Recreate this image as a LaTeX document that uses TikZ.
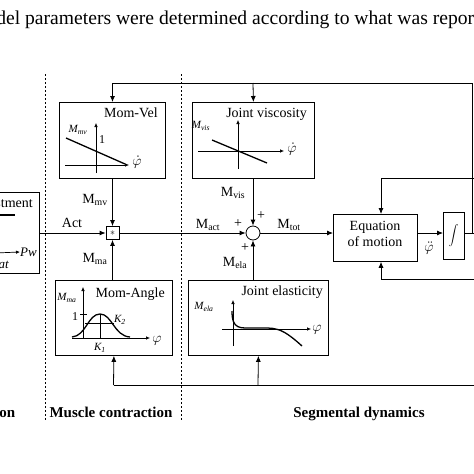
\documentclass[tikz,border=0pt]{standalone}
\usepackage{fontspec}
\setmainfont{Liberation Serif}
\usetikzlibrary{arrows.meta}
\begin{document}
\begin{tikzpicture}[x=1pt,y=-1pt,
  box/.style={draw, line width=0.8pt, inner sep=0pt},
  conn/.style={line width=0.8pt},
  arr/.style={conn, -{Latex[length=6pt,width=5pt]}},
  axis/.style={line width=0.6pt, -{Latex[length=4pt,width=3.5pt]}},
  curve/.style={line width=1.3pt},
  lbl/.style={inner sep=0pt, font=\fontsize{14}{16}\selectfont},
  glbl/.style={inner sep=0pt, font=\fontsize{11}{13}\selectfont\itshape},
  mth/.style={inner sep=0pt, font=\fontsize{15}{17}\selectfont},
  sec/.style={inner sep=0pt, font=\fontsize{15}{17}\selectfont\bfseries},
  divider/.style={line width=0.9pt, dash pattern=on 2.2pt off 1.8pt}]
\useasboundingbox (0,0) rectangle (474,474);
\clip (0,0) rectangle (474,474);
\fill[white] (0,0) rectangle (474,474);

% top running text
\node[inner sep=0pt, anchor=base west, font=\fontsize{19.6}{22}\selectfont] (toptext) at (25,24) {\llap{model }parameters were determined according to what was reported};

% dividers
\coordinate (d1t) at (45,74); \coordinate (d1b) at (45,421);
\coordinate (d2t) at (181,74); \coordinate (d2b) at (181,421);
\draw[divider] (d1t) -- (d1b);
\draw[divider] (d2t) -- (d2b);

% boxes
\node[box, anchor=north west, minimum width=106pt, minimum height=76pt] (mv) at (59,102) {};
\node[box, anchor=north west, minimum width=122pt, minimum height=76pt] (vis) at (192,102) {};
\node[box, anchor=north west, minimum width=117pt, minimum height=75pt] (ma) at (55,280) {};
\node[box, anchor=north west, minimum width=140pt, minimum height=75pt] (el) at (188,280) {};
\node[box, anchor=north west, minimum width=84pt, minimum height=47pt] (eq) at (333,214) {};
\node[box, anchor=north west, minimum width=21pt, minimum height=47pt] (int) at (443,212) {};
\node[box, anchor=north west, minimum width=60pt, minimum height=81pt] (act) at (-21,192) {};
\node[box, minimum width=13pt, minimum height=13pt] (star) at (112.5,233) {};
\node[draw, circle, line width=0.8pt, minimum size=14pt, inner sep=0pt] (sum) at (253,233) {};

% box texts
\node[lbl, anchor=base east] (mvt) at (158,117) {Mom-Vel};
\node[lbl, anchor=base east] (vist) at (307,117) {Joint viscosity};
\node[lbl, anchor=base east] (mat) at (165,297) {Mom-Angle};
\node[lbl, anchor=base east] (elt) at (323,295) {Joint elasticity};
\node[lbl, align=center] (eqt) at (375,234) {Equation\\of motion};
\node[mth] (intt) at (453.5,236) {$\displaystyle\int$};
\node[inner sep=0pt] (start) at (112.5,233.5) {$*$};
\node[lbl, anchor=base east] (actt) at (33,207) {adjustment};

% left box interior
\coordinate (al1) at (-5,215); \coordinate (al2) at (15,215);
\draw[line width=1.2pt] (al1) -- (al2);
\coordinate (pw0) at (-5,253);
\node[inner sep=0pt, anchor=west, font=\fontsize{13}{15}\selectfont\itshape] (pw) at (20,252) {Pw};
\draw[line width=0.7pt, -{Latex[length=4pt,width=3.5pt]}] (pw0) -- (pw.west);
\node[inner sep=0pt, anchor=base east, font=\fontsize{13}{15}\selectfont\itshape] (at) at (9,268) {at};

% Mom-Vel graph
\coordinate (mvv0) at (96,173); \coordinate (mvv1) at (96,123);
\coordinate (mvh0) at (65,165); \coordinate (mvh1) at (129,165);
\draw[axis] (mvv0) -- (mvv1);
\draw[axis] (mvh0) -- (mvh1);
\coordinate (mvl0) at (66,138); \coordinate (mvl1) at (125,164);
\draw[curve] (mvl0) -- (mvl1);
\node[glbl] (mvM) at (78,130) {M\textsubscript{mv}};
\node[inner sep=0pt, font=\fontsize{12}{14}\selectfont] (mv1) at (102,140) {1};
\node[mth] (mvphi) at (137,162) {$\dot{\varphi}$};

% Joint viscosity graph
\coordinate (vsv0) at (238,169); \coordinate (vsv1) at (238,120);
\coordinate (vsh0) at (198,151); \coordinate (vsh1) at (284,151);
\draw[axis] (vsv0) -- (vsv1);
\draw[axis] (vsh0) -- (vsh1);
\coordinate (vsl0) at (212,140); \coordinate (vsl1) at (267,163);
\draw[curve] (vsl0) -- (vsl1);
\node[glbl] (vsM) at (201,126) {M\textsubscript{vis}};
\node[mth] (vsphi) at (292,149) {$\dot{\varphi}$};

% Mom-Angle graph
\coordinate (mav0) at (83,338); \coordinate (mav1) at (83,287);
\coordinate (mah0) at (72,338); \coordinate (mah1) at (150,338);
\draw[axis] (mav0) -- (mav1);
\draw[axis] (mah0) -- (mah1);
\coordinate (mab0) at (72,337); \coordinate (mabp) at (100,314); \coordinate (mab1) at (130,337);
\draw[curve] (mab0) .. controls (86,336) and (88,314) .. (mabp) .. controls (112,314) and (114,336) .. (mab1);
\coordinate (mak1a) at (100,314); \coordinate (mak1b) at (100,338);
\draw[line width=0.5pt] (mak1a) -- (mak1b);
\coordinate (mak2a) at (85,323); \coordinate (mak2b) at (114,323);
\draw[line width=0.5pt] (mak2a) -- (mak2b);
\coordinate (mat0) at (80,314); \coordinate (mat1) at (87,314);
\draw[line width=0.5pt] (mat0) -- (mat1);
\node[glbl] (maM) at (67,298) {M\textsubscript{ma}};
\node[inner sep=0pt, font=\fontsize{12}{14}\selectfont] (ma1) at (75,317) {1};
\node[glbl] (maK2) at (120,320) {K\textsubscript{2}};
\node[glbl] (maK1) at (100,348) {K\textsubscript{1}};
\node[mth] (maphi) at (157,341) {$\varphi$};

% Joint elasticity graph
\coordinate (elv0) at (233,346); \coordinate (elv1) at (233,300);
\coordinate (elh0) at (222,329); \coordinate (elh1) at (311,329);
\draw[axis] (elv0) -- (elv1);
\draw[axis] (elh0) -- (elh1);
\coordinate (elc0) at (232,311); \coordinate (elc1) at (302,346);
\draw[curve] (elc0) .. controls (232,330) and (240,328) .. (255,328) .. controls (275,328) and (280,326) .. (elc1);
\node[glbl] (elM) at (204,307) {M\textsubscript{ela}};
\node[mth] (elphi) at (317,330) {$\varphi$};

% connectors
\draw[arr] (act.east |- star) -- (star.west);
\node[lbl] (actl) at (72,223) {Act};
\draw[arr] (mv.south -| star) -- (star.north);
\node[lbl] (mvl) at (95,200) {M\textsubscript{mv}};
\draw[arr] (ma.north -| star) -- (star.south);
\node[lbl] (mal) at (95,259) {M\textsubscript{ma}};
\draw[arr] (star.east) -- (sum.west);
\node[lbl] (sumactl) at (208,225) {M\textsubscript{act}};
\node[lbl] (p1) at (238,224) {+};
\draw[arr] (vis.south -| sum) -- (sum.north);
\node[lbl] (visl) at (233,193) {M\textsubscript{vis}};
\node[lbl] (p2) at (261,216) {+};
\draw[arr] (el.north -| sum) -- (sum.south);
\node[lbl] (elal) at (235,263) {M\textsubscript{ela}};
\node[lbl] (p3) at (245,248) {+};
\draw[arr] (sum.east) -- (sum -| eq.west);
\node[lbl] (totl) at (289,225) {M\textsubscript{tot}};
\draw[arr] (eq.east |- 0,233) -- (int.west |- 0,233);
\node[mth] (phidd) at (429,248) {$\ddot{\varphi}$};

% integrator output and feedback loops
\coordinate (outR) at (480,233);
\coordinate (vj) at (472,233);
\coordinate (topR) at (472,83);
\coordinate (topL) at (112.5,83);
\coordinate (topM) at (253,83);
\draw[conn] (int.east |- outR) -- (outR);
\draw[conn] (vj) -- (topR) -- (topL);
\draw[arr] (topL) -- (mv.north -| topL);
\draw[arr] (topM) -- (vis.north);
\node[mth] (phiR) at (479,242) {$\varphi$};

\coordinate (f1R) at (480,178); \coordinate (f1L) at (381,178);
\draw[conn] (f1R) -- (f1L);
\draw[arr] (f1L) -- (f1L |- eq.north);
\coordinate (f2R) at (480,279); \coordinate (f2L) at (381,279);
\draw[conn] (f2R) -- (f2L);
\draw[arr] (f2L) -- (f2L |- eq.south);

\coordinate (f3R) at (480,385); \coordinate (f3L) at (113.5,385); \coordinate (f3M) at (258,385);
\draw[conn] (f3R) -- (f3L);
\draw[arr] (f3L) -- (ma.south);
\draw[arr] (f3M) -- (el.south);

% section labels
\node[sec, anchor=base east] (s1) at (15.5,417) {Activation};
\node[sec, anchor=base] (s2) at (111,417) {Muscle contraction};
\node[sec, anchor=base] (s3) at (359,417) {Segmental dynamics};
\end{tikzpicture}
\end{document}
